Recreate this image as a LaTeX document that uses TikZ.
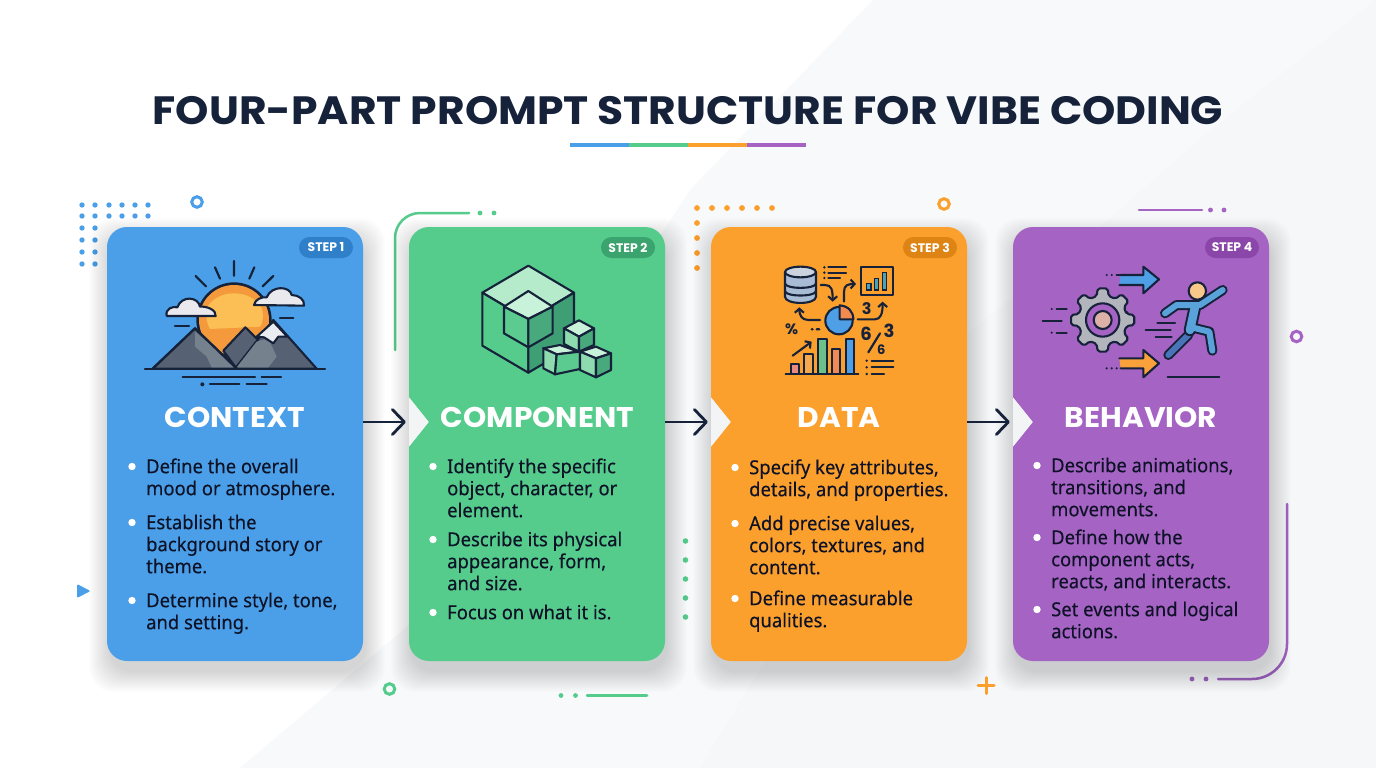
\documentclass[tikz,border=0pt]{standalone}
\usepackage{fontspec}
\setmainfont{Noto Sans}
\newfontfamily\bodyfont[FakeBold=0.18]{Noto Sans}
\newfontfamily\headfont{Poppins}
\usetikzlibrary{arrows.meta}
\definecolor{ink}{HTML}{16213A}
\definecolor{bodyink}{HTML}{0E1226}
\definecolor{cblue}{HTML}{4A9FE8}
\definecolor{cgreen}{HTML}{55CB8C}
\definecolor{corange}{HTML}{FB9F2D}
\definecolor{cpurple}{HTML}{A563C3}
\definecolor{pblue}{HTML}{2F7FC9}
\definecolor{pgreen}{HTML}{3BA36E}
\definecolor{porange}{HTML}{DE8414}
\definecolor{ppurple}{HTML}{8A46A8}
\definecolor{bgtint}{HTML}{F5F7F9}
\definecolor{bgtint2}{HTML}{F7F9FA}
\definecolor{notchc}{HTML}{F3F4F6}
\definecolor{rock}{HTML}{566273}
\definecolor{rocklt}{HTML}{76818E}
\definecolor{sunout}{HTML}{F59A3C}
\definecolor{sunin}{HTML}{FBBF55}
\definecolor{cloud}{HTML}{E9E9EE}
\definecolor{snow}{HTML}{E9ECF0}
\definecolor{gtop}{HTML}{B5EBCB}
\definecolor{gdark}{HTML}{3F9F74}
\definecolor{gtop2}{HTML}{C9F2DA}
\definecolor{gmid}{HTML}{5CCB90}
\definecolor{gdark2}{HTML}{47A97C}
\definecolor{glt}{HTML}{8EDBB0}
\definecolor{dbbody}{HTML}{A9BCD6}
\definecolor{dbtop}{HTML}{CBD3DE}
\definecolor{teal}{HTML}{4AA3B8}
\definecolor{iblue}{HTML}{4E9FE5}
\definecolor{islice}{HTML}{F28B50}
\definecolor{ipink}{HTML}{E88A80}
\definecolor{iamber}{HTML}{F5A94E}
\definecolor{igreen}{HTML}{6CC08A}
\definecolor{icoral}{HTML}{EE8A55}
\definecolor{gearc}{HTML}{B3B5BD}
\definecolor{gearhub}{HTML}{DDB0A8}
\definecolor{iorange}{HTML}{FBA13B}
\definecolor{legb}{HTML}{4A74B8}
\definecolor{bodyb}{HTML}{5AA2DA}
\definecolor{skin}{HTML}{F8C88A}
\tikzset{
  ic/.style={draw=ink,line width=2.1pt,line join=round,line cap=round},
  icl/.style={draw=ink,line width=2.2pt,line cap=round},
  deco/.style={line width=2.5pt,line cap=round},
  ring/.style={line width=3pt,fill=none},
  conn/.style={draw=ink,line width=2.7pt,shorten >=3pt,-{Straight Barb[length=12pt,width=25pt,line width=2.8pt,round]}},
  heading/.style={font=\headfont\bfseries\fontsize{28.5}{32}\selectfont,text=white,inner sep=0pt,xscale=1.04},
  steppill/.style={text=white,font=\headfont\bfseries\fontsize{12.4}{14}\selectfont,rounded corners=10.5pt,minimum width=54pt,minimum height=21pt,inner sep=0pt},
  bodytxt/.style={font=\bodyfont\fontsize{19.3}{22}\selectfont,text=bodyink,align=left,anchor=north west,inner sep=0pt,xscale=0.955},
  cardbox/.style={minimum width=256pt,minimum height=434pt,inner sep=0pt},
  icarr/.style={draw=ink,line width=2.1pt,line cap=round,-{Straight Barb[length=4pt,width=9pt,line width=2.1pt]}},
  icnum/.style={font=\headfont\bfseries\fontsize{#1}{#1}\selectfont,text=ink,inner sep=0pt},
}
\newcommand{\cardpath}[2]{% x, notch(1/0)
  (#1,397) -- (#1,247) arc[start angle=180,end angle=270,radius=20] -- ({#1+236},227) arc[start angle=270,end angle=360,radius=20] -- ({#1+256},641) arc[start angle=0,end angle=90,radius=20] -- ({#1+20},661) arc[start angle=90,end angle=180,radius=20] -- (#1,447) -- ({#1+#2*20},422) -- cycle}
\newcommand{\cardshadow}[1]{%
  \foreach \k in {0,...,20}{
    \fill[black,opacity=0.0065,rounded corners=24pt] ({#1-\k*1.0+2},{227-\k*1.0+11}) rectangle ({#1+256+\k*1.0+2},{661+\k*1.0+11});
  }}
\newcommand{\notchfill}[1]{\fill[notchc] (#1,397) -- ({#1+22},422) -- (#1,447) -- cycle;}
\newcommand{\bul}[3]{% x baseline text
  \fill[white] ({#1-14},{#2-6.5}) circle (3.7);
  \node[bodytxt] at (#1,{#2-16}) {\rule{0pt}{16pt}#3};}
\begin{document}
\begin{tikzpicture}[x=1pt,y=-1pt]
\useasboundingbox (0,0) rectangle (1376,768);
% background
\fill[white] (0,0) rectangle (1376,768);
\fill[bgtint2] (873,0) -- (690,190) -- (409,625) -- (240,768) -- (1376,768) -- (1376,0) -- cycle;
\fill[bgtint] (1376,0) -- (1207,133) -- (1100,227) -- (960,340) -- (700,768) -- (1376,768) -- cycle;
% title
\node[font=\headfont\bfseries\fontsize{39.5}{44}\selectfont,text=ink,inner sep=0pt,xscale=1.074] (title) at (688,111) {FOUR-PART PROMPT STRUCTURE FOR VIBE CODING};
\foreach \xa/\col in {570/cblue,629/cgreen,688/corange,747/cpurple}{
  \fill[\col] (\xa,143) rectangle ({\xa+59},147);
}
% decorations behind
\foreach \xx in {82,95,109,122,135,148}{\foreach \yy in {205,216}{\fill[cblue] (\xx,\yy) circle (2.7);}}
\foreach \xx in {82,95}{\foreach \yy in {228,240,252,264}{\fill[cblue] (\xx,\yy) circle (2.7);}}
\draw[cblue,ring] (197,202) circle (5.3);
\fill[cblue,rounded corners=1.2pt] (77,584) -- (90.5,591) -- (77,598) -- cycle;
\draw[cgreen,deco] (395,350) -- (395,238) arc[start angle=180,end angle=270,radius=25] -- (469,213);
\fill[cgreen] (480,213) circle (2.4) (494,213) circle (2.4);
\foreach \yy in {541,560,579,598,617}{\fill[cgreen] (685.5,\yy) circle (2.8);}
\draw[cgreen,ring] (389.5,689) circle (5.3);
\fill[cgreen] (561,695.5) circle (2.4) (575.5,695.5) circle (2.4);
\draw[cgreen,deco] (587,695.5) -- (647,695.5);
\foreach \xx in {697,712,727,742,757,772}{\fill[corange] (\xx,208) circle (2.9);}
\foreach \yy in {223,238,253,268}{\fill[corange] (697,\yy) circle (2.9);}
\draw[corange,ring] (944,204) circle (5.3);
\draw[corange,line width=3pt,line cap=round] (978,685.5) -- (994,685.5) (986,677.5) -- (986,693.5);
\draw[cpurple,deco] (1139,210) -- (1202,210);
\fill[cpurple] (1210.5,210) circle (2.4) (1224,210) circle (2.4);
\draw[cpurple,ring] (1296.5,336.5) circle (5.3);
\draw[cpurple,deco] (1287,504) -- (1287,644) arc[start angle=0,end angle=90,radius=35] -- (1218,679);
\fill[cpurple] (1192,679) circle (2.4) (1206,679) circle (2.4);
% shadows + cards
\cardshadow{107}\cardshadow{409}\cardshadow{711}\cardshadow{1013}
\notchfill{409}\notchfill{711}\notchfill{1013}
\fill[cblue] \cardpath{107}{0};
\fill[cgreen] \cardpath{409}{1};
\fill[corange] \cardpath{711}{1};
\fill[cpurple] \cardpath{1013}{1};
\node[cardbox] (card1) at (235,444) {};
\node[cardbox] (card2) at (537,444) {};
\node[cardbox] (card3) at (839,444) {};
\node[cardbox] (card4) at (1141,444) {};
% connectors
\draw[conn] ([yshift=22pt]card1.east) -- ([yshift=22pt]card2.west);
\draw[conn] ([yshift=22pt]card2.east) -- ([yshift=22pt]card3.west);
\draw[conn] ([yshift=22pt]card3.east) -- ([yshift=22pt]card4.west);
% pills
\node[steppill,fill=pblue] (s1) at (326,247.5) {STEP 1};
\node[steppill,fill=pgreen] (s2) at (628,247.5) {STEP 2};
\node[steppill,fill=porange] (s3) at (930,247.5) {STEP 3};
\node[steppill,fill=ppurple] (s4) at (1232,247.5) {STEP 4};
% headings
\node[heading] (h1) at (235,417.5) {CONTEXT};
\node[heading] (h2) at (537.5,417.5) {COMPONENT};
\node[heading] (h3) at (839,417.5) {DATA};
\node[heading] (h4) at (1141,417.5) {BEHAVIOR};
% body
\bul{146}{473}{Define the overall\\mood or atmosphere.}
\bul{146}{529}{Establish the\\background story or\\theme.}
\bul{146}{607}{Determine style, tone,\\and setting.}
\bul{447}{473}{Identify the specific\\object, character, or\\element.}
\bul{447}{546}{Describe its physical\\appearance, form,\\and size.}
\bul{447}{619}{Focus on what it is.}
\bul{749}{474}{Specify key attributes,\\details, and properties.}
\bul{749}{530}{Add precise values,\\colors, textures, and\\content.}
\bul{749}{605}{Define measurable\\qualities.}
\bul{1051}{472}{Describe animations,\\transitions, and\\movements.}
\bul{1051}{544}{Define how the\\component acts,\\reacts, and interacts.}
\bul{1051}{616}{Set events and logical\\actions.}
% ICON 1
\begin{scope}[shift={(60,180)},scale=0.33333]
  \draw[icl] (522,243)--(522,287) (465,262)--(480,296) (583,262)--(568,296) (407,288)--(438,319) (640,288)--(608,319);
  \fill[ink] (522,420) circle (113);
  \fill[sunout] (522,420) circle (105);
  \fill[sunin] (440,385) .. controls (470,325) and (575,325) .. (605,385) .. controls (612,410) and (608,430) .. (600,440) -- (450,447) .. controls (440,430) and (436,405) .. (440,385) -- cycle;
  \draw[icl] (345,437)--(387,437) (660,415)--(700,415);
  % clouds
  \path[ic,fill=cloud] (320,408) .. controls (315,385) and (340,378) .. (352,382) .. controls (365,345) and (415,350) .. (420,380) .. controls (440,378) and (470,390) .. (467,408) -- cycle;
  \path[ic,fill=cloud] (582,375) .. controls (585,358) and (605,350) .. (620,352) .. controls (635,315) and (690,318) .. (695,345) .. controls (715,345) and (735,358) .. (732,377) -- cycle;
  % mountains
  \path[ic,fill=rock] (490,512) -- (556,442) -- (605,490) -- (530,566) -- cycle;
  \path[ic,fill=rock] (525,566) -- (640,420) -- (770,566) -- cycle;
  \path[fill=rocklt] (530,562) -- (590,485) -- (625,475) -- (650,530) -- (625,562) -- cycle;
  \path[ic,fill=snow] (590,470) -- (640,425) -- (682,470) -- (655,470) -- (640,490) -- (612,472) -- cycle;
  \path[ic,fill=rock] (278,566) -- (405,445) -- (530,566) -- cycle;
  \path[fill=rocklt] (405,455) -- (470,510) -- (522,562) -- (455,562) -- (440,530) -- (405,500) -- cycle;
  \draw[icl] (278,566) -- (405,445) -- (530,566);
  \draw[icl] (255,566)--(795,566);
  \draw[icl] (368,590)--(585,590) (605,590)--(663,590) (450,613)--(538,613) (560,613)--(620,613);
  \fill[ink] (427,613) circle (6);
\end{scope}
% ICON 2
\begin{scope}[shift={(380,195)},scale=0.33333]
  \path[ic,fill=gtop] (445,212)--(582,293)--(445,375)--(307,293)--cycle;
  \path[ic,fill=cgreen] (307,293)--(445,375)--(445,533)--(307,452)--cycle;
  \path[ic,fill=gdark] (582,293)--(445,375)--(445,533)--(582,452)--cycle;
  \path[ic,fill=gtop2] (445,288)--(518,335)--(445,372)--(372,335)--cycle;
  \path[ic,fill=gmid] (372,335)--(445,372)--(445,457)--(372,415)--cycle;
  \path[ic,fill=gdark2] (518,335)--(445,372)--(445,457)--(518,415)--cycle;
  % small cubes
  \path[ic,fill=gtop2] (597,376)--(642,400)--(597,425)--(552,400)--cycle;
  \path[ic,fill=glt] (552,400)--(597,425)--(597,470)--(552,447)--cycle;
  \path[ic,fill=gdark2] (642,400)--(597,425)--(597,470)--(642,450)--cycle;
  \path[ic,fill=gtop2] (490,460)--(540,450)--(595,470)--(530,478)--cycle;
  \path[ic,fill=glt] (490,460)--(530,478)--(525,538)--(490,520)--cycle;
  \path[ic,fill=gmid] (530,478)--(600,470)--(600,522)--(525,538)--cycle;
  \path[ic,fill=gtop2] (600,470)--(648,455)--(693,475)--(648,490)--cycle;
  \path[ic,fill=glt] (600,470)--(648,490)--(648,547)--(600,525)--cycle;
  \path[ic,fill=gdark2] (693,475)--(648,490)--(648,547)--(693,525)--cycle;
\end{scope}
% ICON 3
\begin{scope}[shift={(690,190)},scale=0.33333]
  \path[ic,fill=dbbody] (285,246) -- (285,320) .. controls (285,345) and (378,345) .. (378,320) -- (378,246) -- cycle;
  \path[ic,fill=dbtop] (331.5,246) ellipse (46.5 and 16);
  \draw[ic] (285,280) .. controls (285,298) and (378,298) .. (378,280);
  \draw[ic] (285,303) .. controls (285,321) and (378,321) .. (378,303);
  \fill[ink] (403,232) circle (4) (403,248) circle (4) (403,264) circle (4);
  \draw[icl] (415,232)--(468,232) (415,248)--(468,248) (415,264)--(450,264);
  \draw[ic] (513,230) rectangle (610,315);
  \path[draw=ink,line width=1.3pt,fill=teal] (530,280) rectangle (543,300) (553,265) rectangle (566,300) (577,248) rectangle (590,300);
  \draw[icarr] (392,285) -- (405,285) .. controls (425,285) and (428,300) .. (428,335);
  \draw[icarr] (462,335) -- (462,305) .. controls (462,285) and (475,282) .. (498,282);
  \draw[icarr] (390,390) -- (355,390) .. controls (335,390) and (328,375) .. (328,352);
  \draw[icarr] (503,388) -- (555,388) .. controls (572,388) and (578,370) .. (578,335);
  \path[ic,fill=iblue] (447,392) circle (41);
  \path[ic,fill=islice] (449,346) .. controls (475,348) and (490,365) .. (490,388) -- (449,388) -- cycle;
  \node[icnum=16] (n3a) at (530,355) {3};
  \node[icnum=15] (npc) at (305,418) {\%};
  \node[icnum=18] (n6a) at (528,430) {6};
  \node[icnum=18] (n3b) at (597,422) {3};
  \node[icnum=13] (n6b) at (574,478) {6};
  \draw[icl] (535,487)--(570,430) (365,418)--(368,418) (380,418)--(388,418);
  \path[ic,fill=ipink] (302,522) rectangle (328,552);
  \path[ic,fill=iamber] (343,492) rectangle (368,552);
  \path[ic,fill=igreen] (385,447) rectangle (410,552);
  \path[ic,fill=icoral] (425,476) rectangle (450,552);
  \path[ic,fill=iblue] (467,447) rectangle (492,552);
  \draw[icl] (287,552)--(505,552);
  \draw[icarr] (308,497)--(365,455);
  \fill[ink] (530,512) circle (4) (530,532) circle (4) (530,552) circle (4);
  \draw[icl] (545,512)--(610,512) (545,532)--(610,532) (545,552)--(582,552);
\end{scope}
% ICON 4
\begin{scope}[shift={(1000,190)},scale=0.33333]
  \draw[icl] (170,357)--(200,357) (128,393)--(185,393) (170,428)--(200,428);
  \fill[ink] (155,357) circle (3.5) (155,428) circle (3.5);
  \begin{scope}[shift={(308,390)}]
    \path[ic,fill=gearc,rounded corners=2pt] (-14:74)
      \foreach \a in {0,45,...,315}{ -- ({\a-14}:74) -- ({\a-9}:96) -- ({\a+9}:96) -- ({\a+14}:74)} -- cycle;
    \path[ic,fill=cpurple] (0,0) circle (50);
    \path[ic,fill=gearhub] (0,0) circle (27);
  \end{scope}
  % arrows
  \fill[ink] (320,255) circle (3.5) (335,255) circle (3.5);
  \draw[icl] (350,255)--(375,255);
  \path[ic,fill=iblue] (362,255)--(430,255)--(430,230)--(477,268)--(430,310)--(430,285)--(358,285);
  \fill[ink] (320,535) circle (3.5) (335,535) circle (3.5) (350,535) circle (3.5);
  \path[ic,fill=iorange] (358,505)--(430,505)--(430,480)--(477,520)--(430,562)--(430,535)--(362,535);
  % person
  \draw[icl] (472,398)--(525,398) (437,420)--(512,420) (467,442)--(515,442) (503,560)--(658,560);
  \draw[ink,line width=10pt,line cap=round] (565,435)--(505,495);
  \draw[legb,line width=6pt,line cap=round] (565,435)--(505,495);
  \draw[ink,line width=10pt,line cap=round,line join=round,fill=none] (495,370)--(530,345)--(600,345)--(668,300);
  \draw[ink,line width=12.5pt,line cap=round] (585,350)--(570,420);
  \draw[ink,line width=10pt,line cap=round,line join=round] (575,412)--(628,425)--(637,482);
  \draw[bodyb,line width=6pt,line cap=round,line join=round] (495,370)--(530,345)--(600,345)--(668,300);
  \draw[bodyb,line width=8.5pt,line cap=round] (585,350)--(570,420);
  \draw[bodyb,line width=6pt,line cap=round,line join=round] (575,412)--(628,425)--(637,482);
  \path[ic,fill=skin] (592,303) circle (26);
\end{scope}
\end{tikzpicture}
\end{document}
